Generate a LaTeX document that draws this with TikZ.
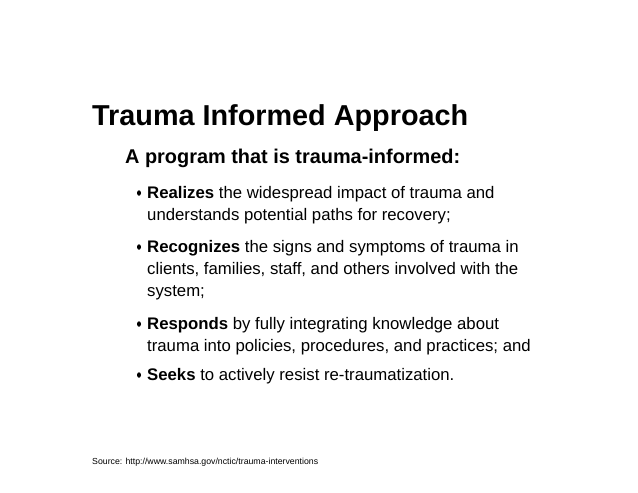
\documentclass[tikz,border=0pt]{standalone}
\usepackage{fontspec}
\usetikzlibrary{shapes.geometric}
\setmainfont{Liberation Sans}
\begin{document}
\begin{tikzpicture}[x=1pt,y=-1pt,
  line/.style={anchor=base west,inner sep=0pt,font=\fontsize{16.75}{19}\selectfont},
  dot/.style={ellipse,fill=black,inner sep=0pt,minimum width=4pt,minimum height=5.5pt}]
\useasboundingbox (0,0) rectangle (638,493);
\node[anchor=base west,inner sep=0pt,font=\fontsize{28.8}{32}\bfseries] (title) at (92,125) {Trauma Informed Approach};
\node[anchor=base west,inner sep=0pt,font=\fontsize{19.9}{22}\bfseries] (sub) at (125,163) {A program that is trauma-informed:};
\node[dot] (d1) at (139,193) {};
\node[line] (l1) at (147,198) {\textbf{Realizes} the widespread impact of trauma and};
\node[line] (l2) at (147,220) {understands potential paths for recovery;};
\node[dot] (d2) at (139,247) {};
\node[line] (l3) at (147,252) {\textbf{Recognizes} the signs and symptoms of trauma in};
\node[line] (l4) at (147,274) {clients, families, staff, and others involved with the};
\node[line] (l5) at (147,296) {system;};
\node[dot] (d3) at (139,324) {};
\node[line] (l6) at (147,329) {\textbf{Responds} by fully integrating knowledge about};
\node[line] (l7) at (147,351) {trauma into policies, procedures, and practices; and};
\node[dot] (d4) at (139,375) {};
\node[line] (l8) at (147,380) {\textbf{Seeks} to actively resist re-traumatization.};
\node[anchor=base west,inner sep=0pt,font=\fontsize{8.75}{10}\selectfont] (src) at (92,464) {Source: http://www.samhsa.gov/nctic/trauma-interventions};
\end{tikzpicture}
\end{document}
